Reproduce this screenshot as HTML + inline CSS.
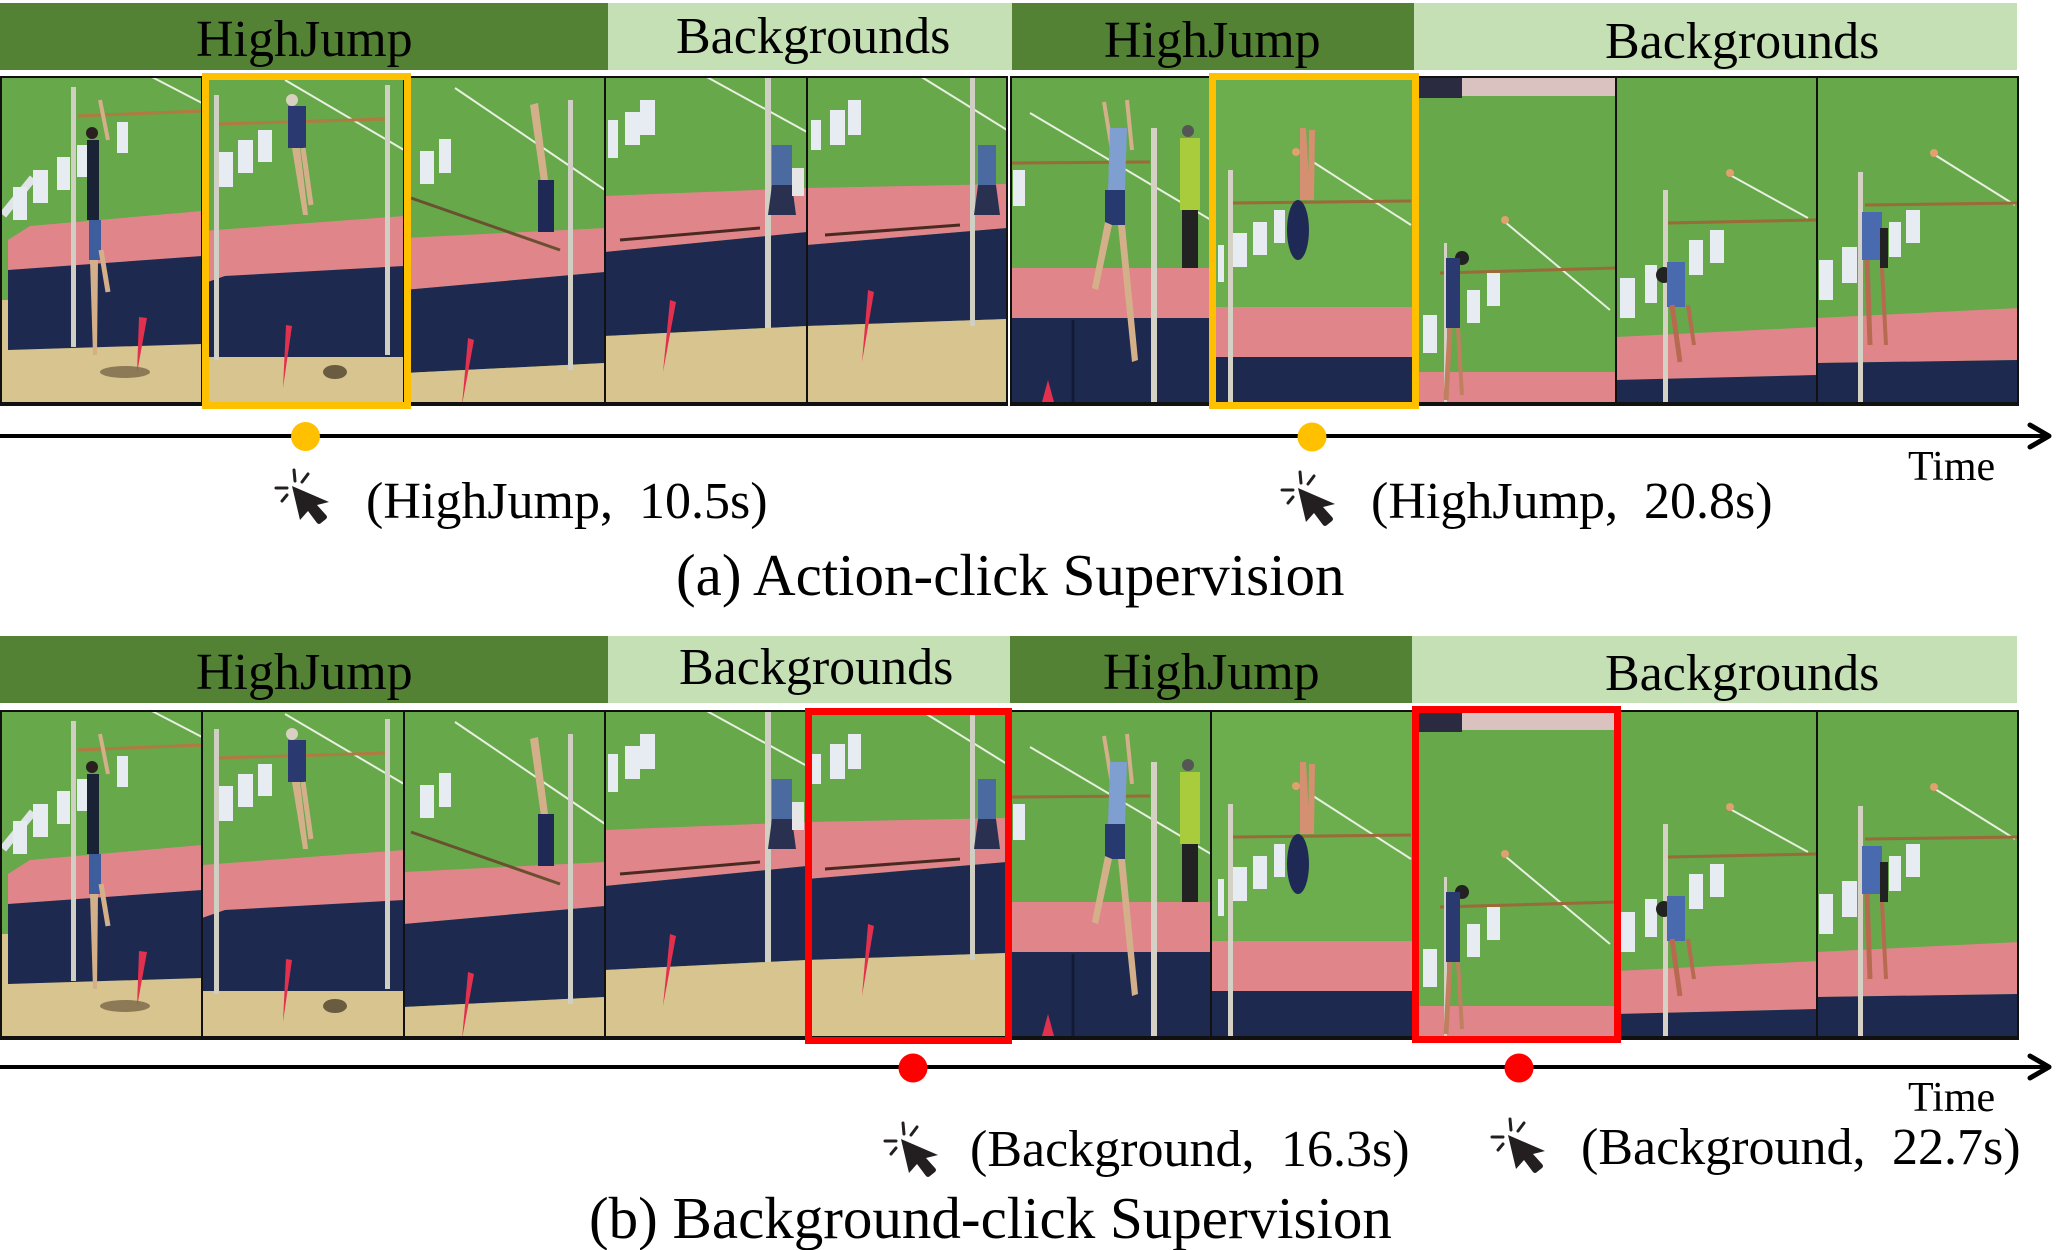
<!DOCTYPE html>
<html><head><meta charset="utf-8">
<style>
html,body{margin:0;padding:0;background:#fff;}
svg{display:block;}
text{font-family:"Liberation Serif","Times New Roman",serif;fill:#000;}
</style></head><body>
<svg width="2058" height="1250" viewBox="0 0 2058 1250" xmlns="http://www.w3.org/2000/svg">
<defs>
<g id="cur">
  <path d="M17,17 L25,51 L33,42 L42,54 Q44,56 46,54 L51,50 Q53,48 51,46 L42,36 L54,33 Z" fill="#231f20"/>
  <g stroke="#231f20" stroke-width="3" stroke-linecap="round">
    <line x1="19" y1="1" x2="20" y2="12"/>
    <line x1="33" y1="5" x2="27" y2="13"/>
    <line x1="1" y1="19" x2="12" y2="19"/>
    <line x1="7" y1="32" x2="12" y2="26"/>
  </g>
</g>
<g id="strip">
  <!-- F1 -->
  <rect x="0" y="76" width="202" height="329" fill="#66a84a"/>
  <rect x="0" y="300" width="10" height="105" fill="#d7c48f"/>
  <rect x="0" y="342" width="202" height="63" fill="#d7c48f"/>
  <polygon points="8,240 30,226 202,211 202,258 8,272" fill="#e0868b"/>
  <polygon points="8,270 202,256 202,344 8,350" fill="#1e2950"/>
  <line x1="3" y1="215" x2="33" y2="178" stroke="#dfe4e8" stroke-width="8"/>
  <line x1="150" y1="76" x2="202" y2="103" stroke="#e8f0e0" stroke-width="2"/>
  <g fill="#e6ecf2"><rect x="117" y="122" width="11" height="31"/><rect x="77" y="145" width="11" height="32"/><rect x="57" y="157" width="13" height="33"/><rect x="33" y="170" width="15" height="33"/><rect x="13" y="187" width="14" height="33"/></g>
  <rect x="71" y="87" width="5" height="260" fill="#cfcfc4"/>
  <line x1="78" y1="116" x2="202" y2="111" stroke="#b07a40" stroke-width="3"/>
  <ellipse cx="125" cy="372" rx="25" ry="6" fill="#5a4a30" opacity="0.6"/>
  <circle cx="92" cy="133" r="6" fill="#2a2020"/>
  <rect x="87" y="140" width="12" height="80" fill="#1a2235"/>
  <line x1="100" y1="100" x2="108" y2="140" stroke="#d4b08a" stroke-width="4"/>
  <rect x="89" y="220" width="12" height="40" fill="#3d5d9c"/>
  <polygon points="90,260 98,260 97,355 93,355" fill="#d4b08a"/>
  <line x1="101" y1="250" x2="108" y2="292" stroke="#d4b08a" stroke-width="5"/>
  <polygon points="139,317 147,318 137,373" fill="#e2304f"/>
  <!-- F2 -->
  <rect x="202" y="76" width="202" height="329" fill="#66a84a"/>
  <polygon points="202,231 404,216 404,268 225,276 202,284" fill="#e0868b"/>
  <polygon points="202,284 225,276 404,266 404,357 202,360" fill="#1e2950"/>
  <rect x="202" y="357" width="202" height="48" fill="#d7c48f"/>
  <line x1="285" y1="80" x2="404" y2="150" stroke="#e8f0e0" stroke-width="2"/>
  <g fill="#e6ecf2"><rect x="218" y="152" width="15" height="35"/><rect x="238" y="140" width="15" height="33"/><rect x="258" y="130" width="14" height="32"/></g>
  <rect x="214" y="95" width="5" height="265" fill="#cfcfc4"/>
  <rect x="385" y="85" width="5" height="270" fill="#cfcfc4"/>
  <line x1="219" y1="124" x2="385" y2="119" stroke="#b07a40" stroke-width="3"/>
  <circle cx="292" cy="100" r="6" fill="#d8d0c0"/>
  <rect x="288" y="106" width="18" height="42" fill="#2a3a70"/>
  <polygon points="292,148 300,148 308,215 303,215" fill="#d4b08a"/>
  <line x1="303" y1="148" x2="311" y2="205" stroke="#d4b08a" stroke-width="5"/>
  <polygon points="286,325 292,326 283,388" fill="#e2304f"/>
  <ellipse cx="335" cy="372" rx="12" ry="7" fill="#3a3020" opacity="0.7"/>
  <!-- F3 -->
  <rect x="404" y="76" width="201" height="329" fill="#66a84a"/>
  <polygon points="404,238 605,228 605,272 404,290" fill="#e0868b"/>
  <polygon points="404,290 605,272 605,363 404,373" fill="#1e2950"/>
  <polygon points="404,373 605,363 605,405 404,405" fill="#d7c48f"/>
  <line x1="455" y1="88" x2="605" y2="190" stroke="#e8f0e0" stroke-width="2"/>
  <line x1="411" y1="198" x2="560" y2="250" stroke="#6a5030" stroke-width="3"/>
  <g fill="#e6ecf2"><rect x="420" y="151" width="14" height="33"/><rect x="439" y="139" width="12" height="34"/></g>
  <rect x="568" y="100" width="5" height="270" fill="#cfcfc4"/>
  <polygon points="530,105 538,103 548,180 541,182" fill="#d4b08a"/>
  <rect x="538" y="180" width="16" height="52" fill="#1e2a55"/>
  <polygon points="468,338 474,340 462,405" fill="#e2304f"/>
  <!-- F4 -->
  <rect x="605" y="76" width="202" height="329" fill="#66a84a"/>
  <polygon points="605,196 807,188 807,232 605,252" fill="#e0868b"/>
  <polygon points="605,252 807,232 807,326 605,336" fill="#1e2950"/>
  <polygon points="605,336 807,326 807,405 605,405" fill="#d7c48f"/>
  <line x1="705" y1="76" x2="807" y2="132" stroke="#e8f0e0" stroke-width="2"/>
  <line x1="620" y1="240" x2="760" y2="228" stroke="#4a2a20" stroke-width="3"/>
  <g fill="#e6ecf2"><rect x="608" y="120" width="10" height="38"/><rect x="625" y="112" width="15" height="33"/><rect x="640" y="100" width="15" height="35"/></g>
  <rect x="765" y="76" width="6" height="252" fill="#cfcfc4"/>
  <rect x="772" y="145" width="20" height="40" fill="#4a6aa0"/>
  <polygon points="772,185 792,185 796,215 768,215" fill="#2a3050"/>
  <rect x="792" y="168" width="12" height="28" fill="#e6e6e6"/>
  <polygon points="670,300 676,302 663,372" fill="#e2304f"/>
  <!-- F5 -->
  <rect x="807" y="76" width="200" height="329" fill="#66a84a"/>
  <polygon points="807,188 1007,184 1007,228 807,245" fill="#e0868b"/>
  <polygon points="807,245 1007,228 1007,319 807,326" fill="#1e2950"/>
  <polygon points="807,326 1007,319 1007,405 807,405" fill="#d7c48f"/>
  <line x1="920" y1="76" x2="1007" y2="130" stroke="#e8f0e0" stroke-width="2"/>
  <line x1="825" y1="235" x2="960" y2="225" stroke="#4a2a20" stroke-width="3"/>
  <g fill="#e6ecf2"><rect x="811" y="120" width="10" height="30"/><rect x="830" y="110" width="15" height="35"/><rect x="848" y="100" width="13" height="35"/></g>
  <rect x="970" y="76" width="5" height="250" fill="#cfcfc4"/>
  <rect x="978" y="145" width="18" height="40" fill="#4a6aa0"/>
  <polygon points="978,185 996,185 1000,215 974,215" fill="#2a3050"/>
  <polygon points="868,290 874,292 862,362" fill="#e2304f"/>
  <!-- F6 -->
  <rect x="1010" y="76" width="201" height="329" fill="#66a84a"/>
  <rect x="1010" y="268" width="201" height="50" fill="#e0868b"/>
  <rect x="1010" y="318" width="201" height="87" fill="#1e2950"/>
  <line x1="1073" y1="320" x2="1073" y2="405" stroke="#131a35" stroke-width="3"/>
  <line x1="1030" y1="113" x2="1211" y2="220" stroke="#e8f0e0" stroke-width="2"/>
  <line x1="1012" y1="163" x2="1150" y2="162" stroke="#9a6a38" stroke-width="3"/>
  <rect x="1013" y="170" width="12" height="36" fill="#e6ecf2"/>
  <rect x="1151" y="128" width="6" height="276" fill="#d5d2c5"/>
  <circle cx="1188" cy="131" r="6" fill="#555"/>
  <rect x="1180" y="138" width="20" height="72" fill="#a9cc3d"/>
  <rect x="1182" y="210" width="16" height="58" fill="#222"/>
  <line x1="1104" y1="102" x2="1112" y2="150" stroke="#d4b08a" stroke-width="4"/>
  <line x1="1127" y1="100" x2="1132" y2="150" stroke="#d4b08a" stroke-width="4"/>
  <polygon points="1110,128 1127,128 1125,190 1108,190" fill="#7f9fd0"/>
  <rect x="1105" y="190" width="20" height="35" fill="#263a70"/>
  <polygon points="1105,222 1112,225 1098,290 1092,288" fill="#d4b08a"/>
  <polygon points="1118,225 1125,225 1138,360 1132,362" fill="#d4b08a"/>
  <polygon points="1042,402 1048,380 1054,402" fill="#e2304f"/>
  <!-- F7 -->
  <rect x="1211" y="76" width="206" height="329" fill="#6cad4d"/>
  <rect x="1211" y="307" width="206" height="50" fill="#e0868b"/>
  <rect x="1211" y="357" width="206" height="48" fill="#1e2950"/>
  <line x1="1310" y1="160" x2="1411" y2="225" stroke="#e8f0e0" stroke-width="2"/>
  <line x1="1233" y1="203" x2="1411" y2="201" stroke="#9a6a38" stroke-width="3"/>
  <g fill="#e6ecf2"><rect x="1218" y="245" width="6" height="37"/><rect x="1233" y="233" width="14" height="34"/><rect x="1253" y="222" width="14" height="33"/><rect x="1274" y="210" width="11" height="33"/></g>
  <rect x="1228" y="170" width="5" height="235" fill="#d5d2c5"/>
  <circle cx="1296" cy="152" r="4" fill="#e0a070"/>
  <polygon points="1300,128 1306,128 1310,200 1300,200" fill="#d49070"/>
  <polygon points="1309,130 1315,130 1314,200 1308,200" fill="#d49070"/>
  <ellipse cx="1298" cy="230" rx="11" ry="30" fill="#1e2a55"/>
  <!-- F8 -->
  <rect x="1417" y="76" width="199" height="329" fill="#66a84a"/>
  <rect x="1417" y="76" width="199" height="20" fill="#d9c2c0"/>
  <rect x="1417" y="76" width="45" height="22" fill="#2a2a40"/>
  <rect x="1417" y="372" width="199" height="33" fill="#e0868b"/>
  <line x1="1505" y1="222" x2="1610" y2="310" stroke="#e8f0e0" stroke-width="2"/>
  <circle cx="1505" cy="220" r="4" fill="#e0a070"/>
  <line x1="1440" y1="273" x2="1616" y2="268" stroke="#9a6a38" stroke-width="3"/>
  <g fill="#e6ecf2"><rect x="1423" y="315" width="14" height="38"/><rect x="1467" y="290" width="13" height="33"/><rect x="1487" y="273" width="13" height="33"/></g>
  <rect x="1444" y="243" width="3" height="160" fill="#d5d2c5"/>
  <circle cx="1462" cy="258" r="7" fill="#222"/>
  <rect x="1446" y="258" width="14" height="70" fill="#2a3a70"/>
  <line x1="1450" y1="328" x2="1446" y2="400" stroke="#c08060" stroke-width="5"/>
  <line x1="1458" y1="328" x2="1462" y2="395" stroke="#c08060" stroke-width="4"/>
  <!-- F9 -->
  <rect x="1616" y="76" width="201" height="329" fill="#66a84a"/>
  <polygon points="1616,337 1817,327 1817,375 1616,380" fill="#e0868b"/>
  <polygon points="1616,380 1817,375 1817,405 1616,405" fill="#1e2950"/>
  <line x1="1730" y1="175" x2="1808" y2="218" stroke="#e8f0e0" stroke-width="2"/>
  <circle cx="1730" cy="173" r="4" fill="#e0a070"/>
  <line x1="1668" y1="223" x2="1816" y2="220" stroke="#9a6a38" stroke-width="3"/>
  <g fill="#e6ecf2"><rect x="1620" y="278" width="15" height="40"/><rect x="1645" y="265" width="12" height="38"/><rect x="1689" y="240" width="14" height="35"/><rect x="1710" y="230" width="14" height="33"/></g>
  <rect x="1663" y="190" width="5" height="215" fill="#d5d2c5"/>
  <circle cx="1664" cy="275" r="8" fill="#222"/>
  <rect x="1667" y="262" width="18" height="45" fill="#4a6ab0"/>
  <line x1="1672" y1="305" x2="1680" y2="362" stroke="#b86a50" stroke-width="5"/>
  <line x1="1688" y1="305" x2="1694" y2="345" stroke="#b86a50" stroke-width="4"/>
  <!-- F10 -->
  <rect x="1817" y="76" width="202" height="329" fill="#66a84a"/>
  <polygon points="1817,318 2019,308 2019,360 1817,363" fill="#e0868b"/>
  <polygon points="1817,363 2019,360 2019,405 1817,405" fill="#1e2950"/>
  <line x1="1935" y1="155" x2="2015" y2="205" stroke="#e8f0e0" stroke-width="2"/>
  <circle cx="1934" cy="153" r="4" fill="#e0a070"/>
  <line x1="1865" y1="205" x2="2019" y2="203" stroke="#9a6a38" stroke-width="3"/>
  <g fill="#e6ecf2"><rect x="1819" y="260" width="14" height="40"/><rect x="1842" y="247" width="15" height="36"/><rect x="1889" y="222" width="12" height="35"/><rect x="1906" y="210" width="14" height="33"/></g>
  <rect x="1858" y="172" width="5" height="233" fill="#d5d2c5"/>
  <rect x="1862" y="212" width="20" height="48" fill="#4a6ab0"/>
  <rect x="1880" y="228" width="8" height="40" fill="#222"/>
  <line x1="1867" y1="260" x2="1870" y2="345" stroke="#b86a50" stroke-width="5"/>
  <line x1="1882" y1="268" x2="1886" y2="345" stroke="#b86a50" stroke-width="4"/>
  <!-- borders -->
  <g fill="none" stroke="#111" stroke-width="2">
    <rect x="1" y="77" width="201" height="327"/>
    <rect x="202" y="77" width="202" height="327"/>
    <rect x="404" y="77" width="201" height="327"/>
    <rect x="605" y="77" width="202" height="327"/>
    <rect x="807" y="77" width="200" height="327"/>
    <rect x="1011" y="77" width="200" height="327"/>
    <rect x="1211" y="77" width="206" height="327"/>
    <rect x="1417" y="77" width="199" height="327"/>
    <rect x="1616" y="77" width="201" height="327"/>
    <rect x="1817" y="77" width="201" height="327"/>
  </g>
  <rect x="0" y="402" width="1008" height="4" fill="#111"/>
  <rect x="1010" y="402" width="1009" height="4" fill="#111"/>
</g>
</defs>

<!-- ===== (a) ===== -->
<rect x="0" y="3" width="608" height="67" fill="#548235"/>
<rect x="608" y="3" width="404" height="67" fill="#C5E0B4"/>
<rect x="1012" y="3" width="402" height="67" fill="#548235"/>
<rect x="1414" y="3" width="603" height="67" fill="#C5E0B4"/>
<text x="196" y="56" font-size="52">HighJump</text>
<text x="676" y="53" font-size="52">Backgrounds</text>
<text x="1104" y="57" font-size="52">HighJump</text>
<text x="1605" y="58" font-size="52">Backgrounds</text>

<use href="#strip"/>
<rect x="205.5" y="76.5" width="202" height="329" fill="none" stroke="#FFC000" stroke-width="7"/>
<rect x="1212.5" y="76.5" width="203" height="329" fill="none" stroke="#FFC000" stroke-width="7"/>

<line x1="0" y1="436" x2="2047" y2="436" stroke="#000" stroke-width="4"/>
<polyline points="2030,425 2049,436 2030,447" fill="none" stroke="#000" stroke-width="5" stroke-linecap="round" stroke-linejoin="round"/>
<circle cx="305.5" cy="436.5" r="14.5" fill="#FFC000"/>
<circle cx="1312" cy="437" r="14.5" fill="#FFC000"/>
<text x="1908" y="480" font-size="42">Time</text>

<use href="#cur" transform="translate(275,469)"/>
<text y="518" font-size="52"><tspan x="366">(HighJump,</tspan><tspan x="639">10.5s)</tspan></text>
<use href="#cur" transform="translate(1281,471)"/>
<text y="518" font-size="52"><tspan x="1371">(HighJump,</tspan><tspan x="1644">20.8s)</tspan></text>
<text x="676" y="595" font-size="59">(a) Action-click Supervision</text>

<!-- ===== (b) ===== -->
<rect x="0" y="636" width="608" height="67" fill="#548235"/>
<rect x="608" y="636" width="402" height="67" fill="#C5E0B4"/>
<rect x="1010" y="636" width="402" height="67" fill="#548235"/>
<rect x="1412" y="636" width="605" height="67" fill="#C5E0B4"/>
<text x="196" y="689" font-size="52">HighJump</text>
<text x="679" y="684" font-size="52">Backgrounds</text>
<text x="1103" y="689" font-size="52">HighJump</text>
<text x="1605" y="690" font-size="52">Backgrounds</text>

<use href="#strip" transform="translate(0,634)"/>
<rect x="808.5" y="711.5" width="200" height="329" fill="none" stroke="#FF0000" stroke-width="7"/>
<rect x="1415.5" y="709.5" width="202" height="330" fill="none" stroke="#FF0000" stroke-width="7"/>

<line x1="0" y1="1067" x2="2047" y2="1067" stroke="#000" stroke-width="4"/>
<polyline points="2030,1056 2049,1067 2030,1078" fill="none" stroke="#000" stroke-width="5" stroke-linecap="round" stroke-linejoin="round"/>
<circle cx="913" cy="1068" r="14.5" fill="#FF0000"/>
<circle cx="1519" cy="1068" r="14.5" fill="#FF0000"/>
<text x="1908" y="1111" font-size="42">Time</text>

<use href="#cur" transform="translate(884,1122)"/>
<text y="1166" font-size="52"><tspan x="970">(Background,</tspan><tspan x="1281">16.3s)</tspan></text>
<use href="#cur" transform="translate(1491,1118)"/>
<text y="1164" font-size="52"><tspan x="1581">(Background,</tspan><tspan x="1892">22.7s)</tspan></text>
<text x="589" y="1238" font-size="59">(b) Background-click Supervision</text>
</svg>
</body></html>
